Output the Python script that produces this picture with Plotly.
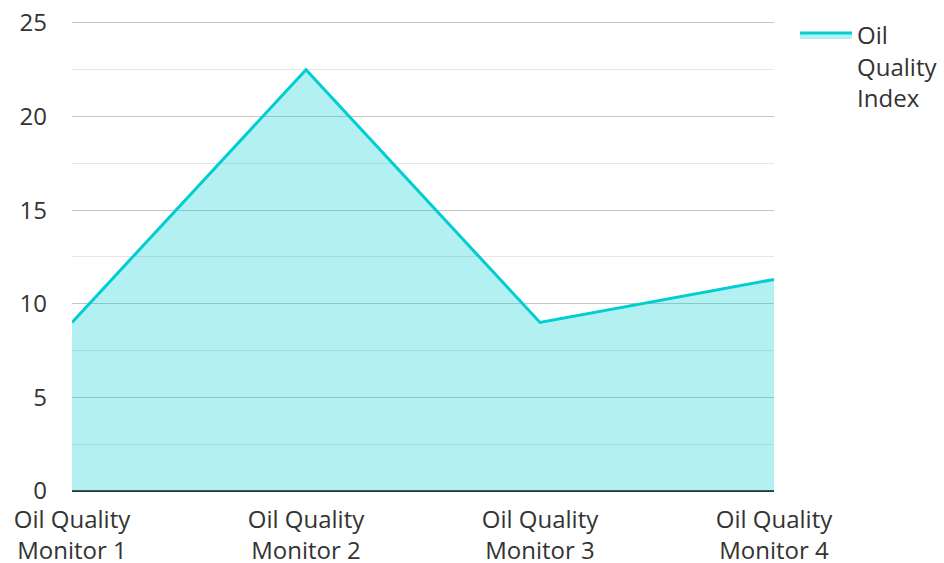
import plotly.graph_objects as go

categories = ["Oil Quality<br>Monitor 1", "Oil Quality<br>Monitor 2", "Oil Quality<br>Monitor 3", "Oil Quality<br>Monitor 4"]
values = [9.0, 22.5, 9.0, 11.3]
series_name = "Oil<br>Quality<br>Index"

fig = go.Figure()
fig.add_trace(go.Scatter(
    x=list(range(len(categories))), y=values, name=series_name,
    mode="lines", fill="tozeroy",
    line=dict(color="#00CED1", width=3),
    fillcolor="rgba(0,206,209,0.3)",
))

font = dict(family="Open Sans, Noto Sans, sans-serif", size=24, color="#333333")
fig.update_layout(
    width=944, height=563,
    margin=dict(l=72, r=170, t=21, b=72, autoexpand=False),
    plot_bgcolor="white", paper_bgcolor="white",
    font=font,
    showlegend=True,
    legend=dict(x=1.03, y=1.017, xanchor="left", yanchor="top", font=font,
                bgcolor="rgba(0,0,0,0)", itemwidth=52, valign="top"),
)
fig.update_xaxes(
    tickmode="array", tickvals=list(range(len(categories))), ticktext=categories,
    range=[0, len(categories) - 1], showgrid=False, zeroline=False,
    showline=False, ticks="", tickfont=font, ticklabelstandoff=12, automargin=False,
)
fig.update_yaxes(
    range=[0, 25.1], dtick=5, tick0=0, showgrid=True, gridcolor="#c4c4c4", gridwidth=1,
    minor=dict(dtick=2.5, showgrid=True, gridcolor="#e6e6e6", gridwidth=1),
    zeroline=True, zerolinecolor="#333333", zerolinewidth=2,
    showline=False, ticks="", tickfont=font, ticklabelstandoff=24, automargin=False,
)
fig.write_html("out.html")
